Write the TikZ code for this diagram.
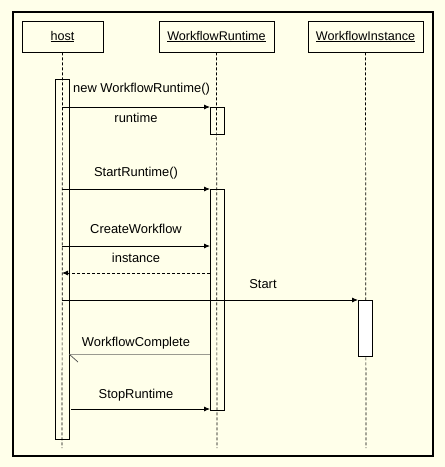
\documentclass[tikz,border=0pt]{standalone}
\usepackage{fontspec}
\setmainfont{Liberation Sans}
\usetikzlibrary{arrows.meta}
\definecolor{bg}{HTML}{FFFFEA}
\definecolor{msggray}{HTML}{9A9A90}
\begin{document}
\begin{tikzpicture}[x=1pt,y=-1pt,
  hdr/.style={draw, fill=bg, line width=0.9pt, minimum height=31pt, inner sep=0pt,
    font=\fontsize{12.6}{14}\selectfont},
  life/.style={dash pattern=on 3pt off 2pt, line width=0.7pt},
  act/.style={draw, line width=0.9pt},
  msg/.style={-{Latex[length=6pt,width=5pt]}, line width=0.8pt},
  lbl/.style={font=\fontsize{12.9}{14}\selectfont, inner sep=0pt}]
\fill[bg] (0,0) rectangle (445,467);
\useasboundingbox (0,0) rectangle (445,467);
\draw[line width=1.1pt] (13,12) rectangle (433,456);

% headers
\node[hdr, minimum width=81pt] (host) at (62.5,36.5) {\underline{host}};
\node[hdr, minimum width=115pt] (wr) at (216.5,36.5) {\underline{WorkflowRuntime}};
\node[hdr, minimum width=115pt] (wi) at (365.5,36.5) {\underline{WorkflowInstance}};

% lifeline ends
\coordinate (hostend) at (62,448);
\coordinate (wrend) at (217,448);
\coordinate (wiend) at (366,448);

% activations
\draw[act] (55,79) rectangle (69,439);
\draw[act] (210,107) rectangle (224,134);
\draw[act] (210,189) rectangle (224,410);
\draw[life] (host.south) -- (hostend);
\draw[life] (wr.south) -- (wrend);
\draw[life] (wi.south) -- (wiend);
\draw[act, fill=white] (358,300) rectangle (372,356);

% message endpoints
\coordinate (m1a) at (62,107);  \coordinate (m1b) at (210,107);
\coordinate (m2a) at (62,189);  \coordinate (m2b) at (210,189);
\coordinate (m3a) at (62,246);  \coordinate (m3b) at (210,246);
\coordinate (m4a) at (210,273); \coordinate (m4b) at (62,273);
\coordinate (m5a) at (62,300);  \coordinate (m5b) at (358,300);
\coordinate (m6a) at (210,354); \coordinate (m6b) at (69,354);
\coordinate (m6c) at (78,362);
\coordinate (m7a) at (71,409);  \coordinate (m7b) at (210,409);

\draw[msg] (m1a) -- (m1b);
\draw[msg] (m2a) -- (m2b);
\draw[msg] (m3a) -- (m3b);
\draw[msg, dash pattern=on 3pt off 2pt] (m4a) -- (m4b);
\draw[msg] (m5a) -- (m5b);
\draw[line width=1pt, msggray] (m6a) -- (m6b);
\draw[line width=0.7pt, black!70] (m6b) -- (m6c);
\draw[msg] (m7a) -- (m7b);

% labels
\node[lbl, anchor=west] (l1) at (73,89) {new WorkflowRuntime()};
\node[lbl] (l1r) at (136,118) {runtime};
\node[lbl] (l2) at (136,173) {StartRuntime()};
\node[lbl] (l3) at (136,229) {CreateWorkflow};
\node[lbl] (l4) at (136,258) {instance};
\node[lbl] (l5) at (263,284) {Start};
\node[lbl] (l6) at (136,343) {WorkflowComplete};
\node[lbl] (l7) at (136,395) {StopRuntime};
\end{tikzpicture}
\end{document}
